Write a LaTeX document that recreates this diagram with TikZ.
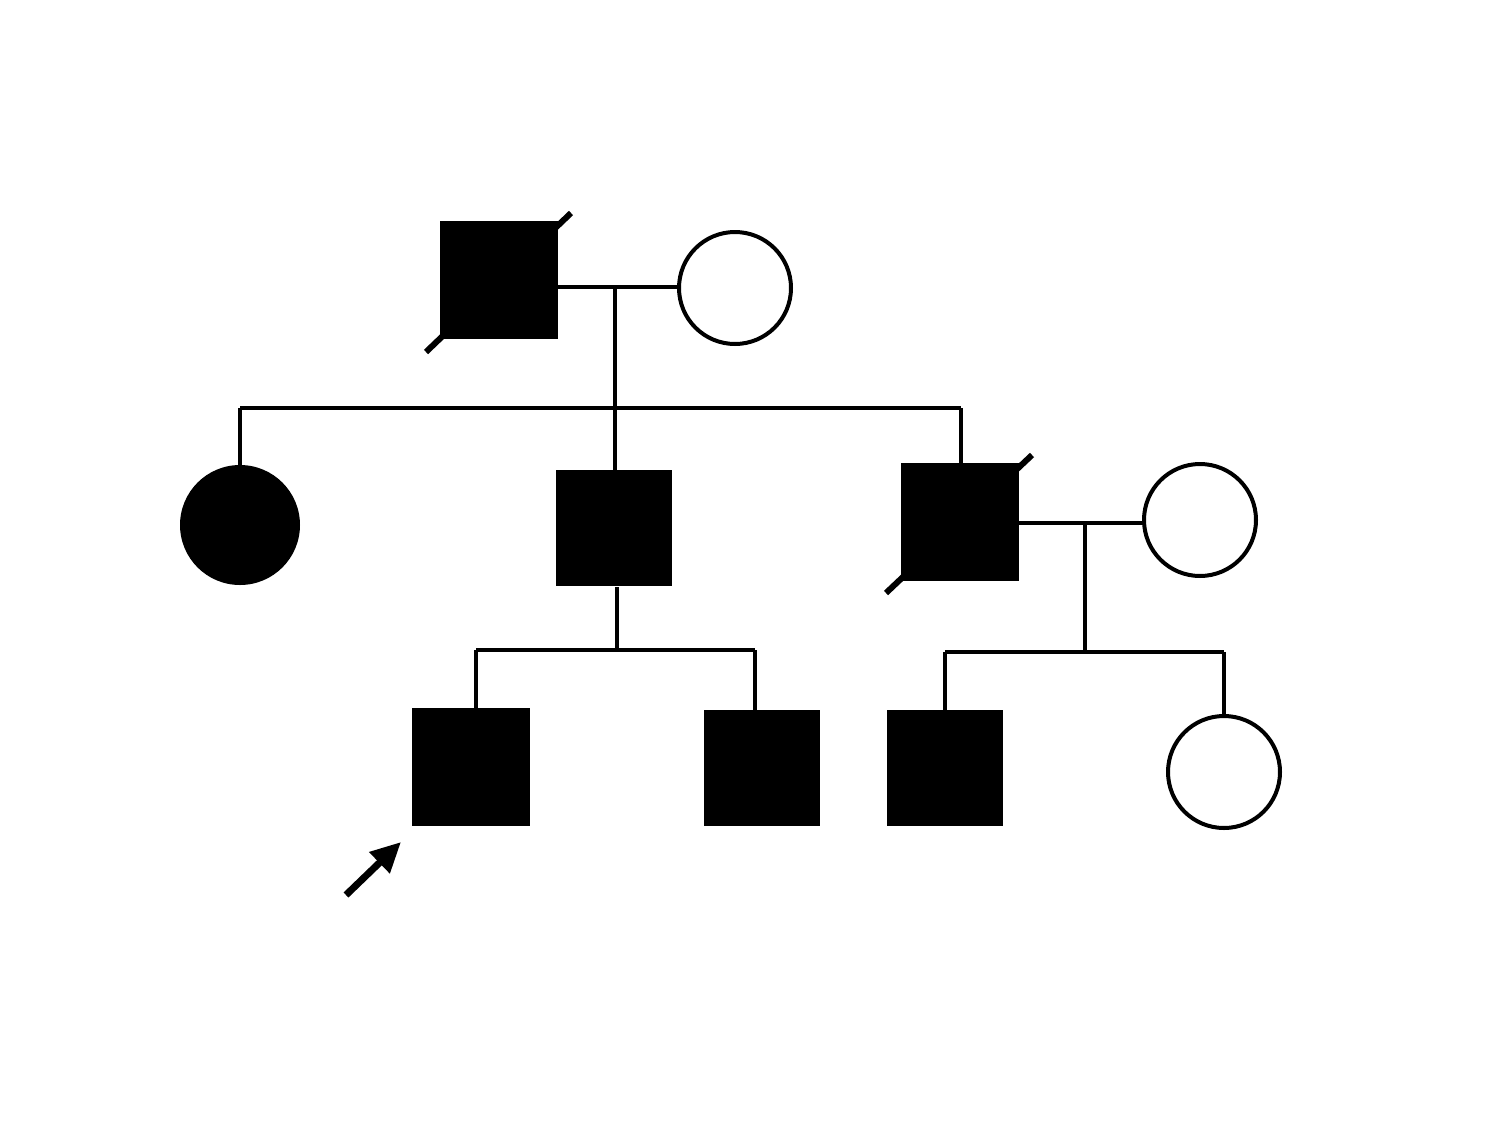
\documentclass[tikz,border=0pt]{standalone}
\usetikzlibrary{arrows.meta}
\begin{document}
\begin{tikzpicture}[x=1pt,y=-1pt,
  male/.style={rectangle,fill=black,inner sep=0pt,minimum size=#1},
  male/.default=118pt,
  femaleopen/.style={circle,draw=black,line width=4pt,fill=white,inner sep=0pt,minimum size=112pt},
  femalefill/.style={circle,fill=black,inner sep=0pt,minimum size=120pt},
  link/.style={line width=3.5pt,line cap=butt},
  slash/.style={line width=6pt},
  proband/.style={line width=7pt,-{Triangle[length=30pt,width=28pt]}}]
\useasboundingbox (0,0) rectangle (1500,1125);
\fill[white] (0,0) rectangle (1500,1125);
% generation I
\node[male] (g1m) at (499,280) {};
\node[femaleopen] (g1f) at (735,288) {};
\draw[link] (g1m.east |- 0,287) -- (g1f.west |- 0,287);
\coordinate (d1) at (615,287);
\coordinate (s1) at (615,408);
\coordinate (s1l) at (240,408);
\coordinate (s1r) at (961,408);
\draw[link] (d1) -- (s1);
\draw[link] (s1l) -- (s1r);
\draw[slash] (426,352) -- (571,213);
% generation II
\node[femalefill] (g2a) at (240,525) {};
\node[male=116pt] (g2b) at (614,528) {};
\node[male] (g2c) at (960,522) {};
\node[femaleopen] (g2d) at (1200,520) {};
\draw[link] (s1l) -- (g2a.north);
\draw[link] (s1) -- (s1 |- g2b.north);
\draw[link] (s1r) -- (g2c.north -| s1r);
\draw[slash] (886,593) -- (1032,455);
\draw[link] (g2c.east |- 0,523) -- (g2d.west |- 0,523);
\coordinate (d2) at (1085,523);
\coordinate (s2) at (1085,652);
\coordinate (s2l) at (945,652);
\coordinate (s2r) at (1224,652);
\draw[link] (d2) -- (s2);
\draw[link] (s2l) -- (s2r);
\coordinate (d3) at (617,587);
\coordinate (s3) at (617,650);
\coordinate (s3l) at (476,650);
\coordinate (s3r) at (755,650);
\draw[link] (d3) -- (s3);
\draw[link] (s3l) -- (s3r);
% generation III
\node[male] (g3a) at (471,767) {};
\node[male=116pt] (g3b) at (762,768) {};
\node[male=116pt] (g3c) at (945,768) {};
\node[femaleopen] (g3d) at (1224,772) {};
\draw[link] (s3l) -- (g3a.north -| s3l);
\draw[link] (s3r) -- (g3b.north -| s3r);
\draw[link] (s2l) -- (g3c.north);
\draw[link] (s2r) -- (g3d.north);
% proband arrow
\coordinate (pa) at (346,895);
\coordinate (pb) at (401,842);
\draw[proband] (pa) -- (pb);
\end{tikzpicture}
\end{document}
